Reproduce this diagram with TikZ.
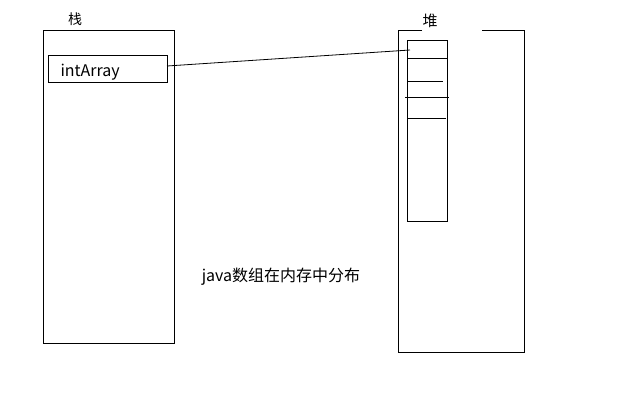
\documentclass[tikz,border=0pt]{standalone}
\usepackage{fontspec}
\setmainfont{Noto Sans CJK SC}
\begin{document}
\begin{tikzpicture}[x=1pt,y=-1pt]
    % Define styles
    \tikzset{frame/.style={draw,line width=0.8pt},
             cell/.style={line width=0.8pt}}
    \useasboundingbox[fill=white] (0,0) rectangle (640,400);

    % Stack
    \draw[frame] (43,30) rectangle (174,343);
    \node[font=\fontsize{14}{16}\selectfont] (stacklbl) at (75,19) {栈};
    \draw[frame] (48,55) rectangle (167,82);
    \node[font=\fontsize{16}{18}\selectfont,anchor=west] (intarr) at (57,72) {intArray};
    \coordinate (ref) at (167,66);

    % Heap
    \draw[frame] (422,30) -- (398,30) -- (398,352) -- (524,352) -- (524,30) -- (482,30);
    \node[font=\fontsize{15}{17}\selectfont] (heaplbl) at (430,21) {堆};
    \draw[frame] (407,40) rectangle (447,221);
    \coordinate (arr) at (410,50);
    \foreach \y/\a/\b in {58/408/447, 81/407/443, 97/405/449, 118/407/446}
    {
        \draw[cell] (\a,\y) -- (\b,\y);
    }

    % Reference
    \draw[cell] (ref) -- (arr);

    % Caption
    \node[font=\fontsize{16}{18}\selectfont] (caption) at (281,277) {java数组在内存中分布};
\end{tikzpicture}
\end{document}
